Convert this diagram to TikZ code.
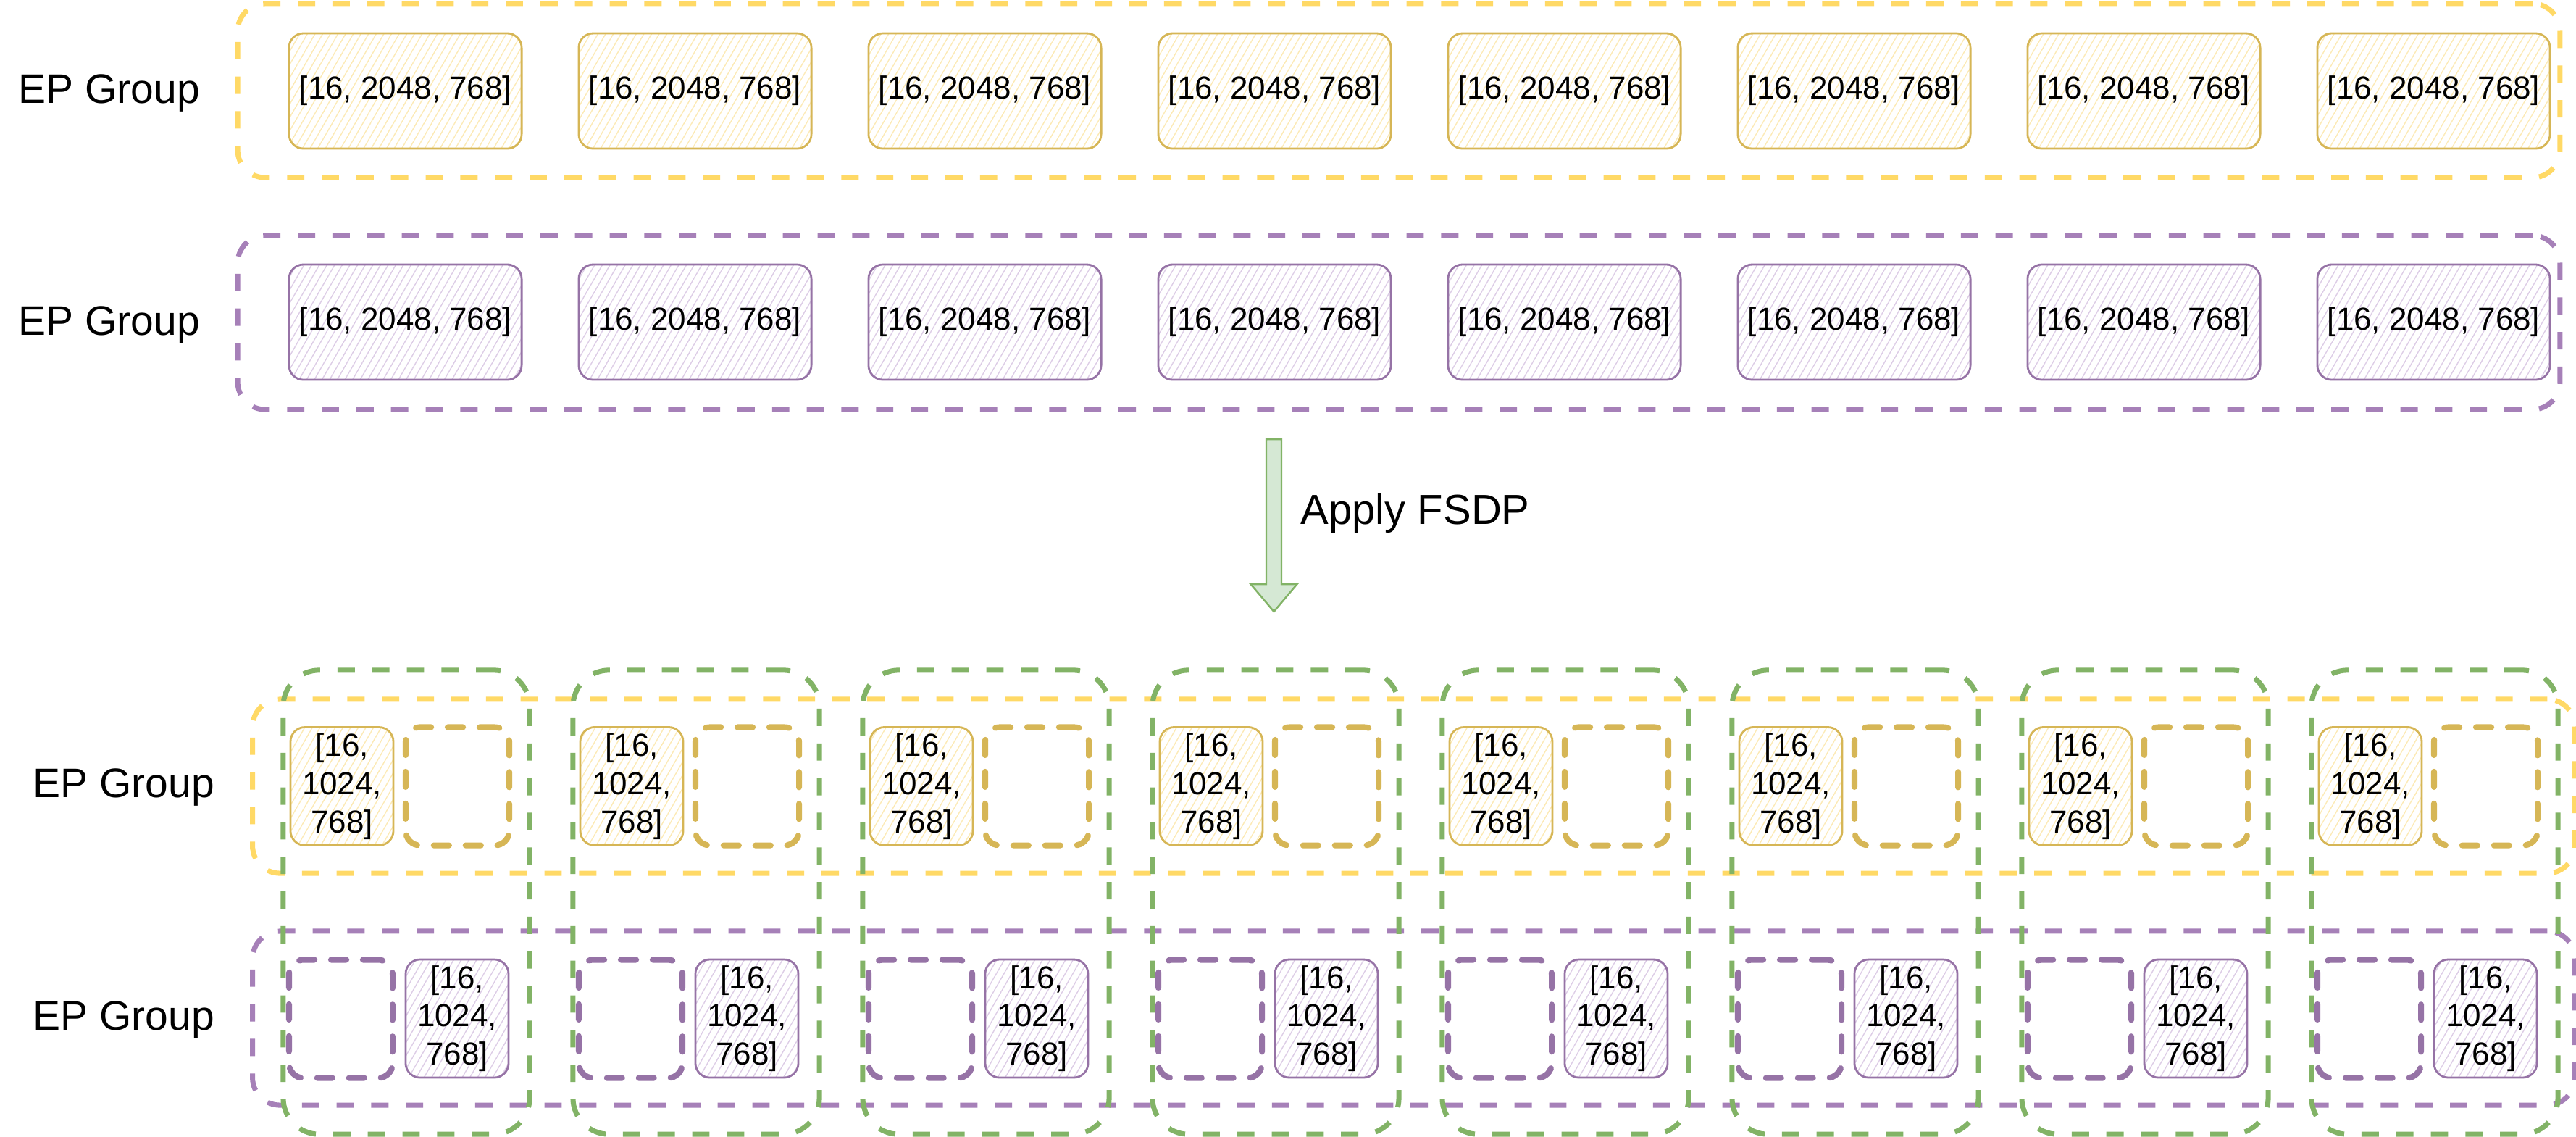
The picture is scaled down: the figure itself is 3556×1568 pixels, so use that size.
\documentclass[tikz,border=0pt]{standalone}
\usepackage{fontspec}
\setmainfont{Liberation Sans}
\usetikzlibrary{calc,patterns.meta}

\definecolor{ylwline}{HTML}{D6B656}
\definecolor{ylwhatch}{HTML}{FCEAB6}
\definecolor{ylwgrp}{HTML}{FFD966}
\definecolor{prpline}{HTML}{9673A6}
\definecolor{prphatch}{HTML}{DDCDE6}
\definecolor{prpgrp}{HTML}{A680B8}
\definecolor{grnline}{HTML}{82B366}
\definecolor{grnfill}{HTML}{D5E8D4}

\tikzset{
  grpline/.style={draw, line width=2pt, dash pattern=on 6.8pt off 6.8pt,
    rounded corners=0.38cm, minimum width=32.04cm, minimum height=2.4cm, inner sep=0pt},
  rankgrp/.style={grpline, draw=grnline, minimum width=3.4cm, minimum height=6.4cm,
    rounded corners=0.5cm},
  tensor/.style={draw=#1line, line width=0.8pt, rounded corners=0.2cm,
    pattern={Lines[angle=60,distance=2.6pt,line width=0.4pt]}, pattern color=#1hatch,
    inner sep=0pt, align=center, font=\fontsize{12.5}{15}\selectfont},
  fulltensor/.style={tensor=#1, minimum width=3.21cm, minimum height=1.59cm},
  halftensor/.style={tensor=#1, minimum width=1.42cm, minimum height=1.63cm},
  emptyshard/.style={draw=#1line, line width=2.3pt, dash pattern=on 6pt off 6.5pt,
    line cap=round, rounded corners=0.2cm, minimum width=1.43cm, minimum height=1.63cm},
  eplabel/.style={font=\fontsize{16.2}{19}\selectfont, anchor=base west, inner sep=0pt},
  fsdparrow/.style={draw=grnline, fill=grnfill, line width=0.7pt, line join=miter},
}

\begin{document}
\begin{tikzpicture}[x=0.01cm, y=-0.01cm]
  \useasboundingbox (0,0) rectangle (3556,1568);

  % before FSDP: every rank holds the whole tensor
  \node[grpline, draw=ylwgrp] (grpy1) at (1931,125) {};
  \node[grpline, draw=prpgrp] (grpp1) at (1931,445) {};
  \node[eplabel] (lbly1) at (25,142) {EP Group};
  \node[eplabel] (lblp1) at (25,462) {EP Group};
  \foreach \i in {0,...,7} {
    \node[fulltensor=ylw] (ty\i) at (559.5+400*\i,125.5) {[16, 2048, 768]};
    \node[fulltensor=prp] (tp\i) at (559.5+400*\i,444.5) {[16, 2048, 768]};
  }

  % the step between
  \coordinate (fsdp in) at (1758.5,606);
  \coordinate (fsdp out) at (1758.5,844);
  \draw[fsdparrow] ($(fsdp in)+(-10.5,0)$) -- ($(fsdp in)+(10.5,0)$)
    -- ($(fsdp out)+(10.5,-38)$) -- ($(fsdp out)+(32,-38)$) -- (fsdp out)
    -- ($(fsdp out)+(-32,-38)$) -- ($(fsdp out)+(-10.5,-38)$) -- cycle;
  \node[font=\fontsize{16.5}{19}\selectfont, anchor=base west, inner sep=0pt]
    (fsdplbl) at (1795,723) {Apply FSDP};

  % after FSDP: each rank keeps one half, green box = one rank
  \node[grpline, draw=ylwgrp] (grpy2) at (1951.5,1085) {};
  \node[grpline, draw=prpgrp] (grpp2) at (1951.5,1405) {};
  \node[eplabel] (lbly2) at (45,1100) {EP Group};
  \node[eplabel] (lblp2) at (45,1421) {EP Group};
  \foreach \i in {0,...,7} {
    \node[rankgrp] (rk\i) at (561+400*\i,1245) {};
    \node[halftensor=ylw] (shy\i) at (472+400*\i,1085) {[16,\\1024,\\768]};
    \node[emptyshard=ylw] (emy\i) at (631.5+400*\i,1085) {};
    \node[emptyshard=prp] (emp\i) at (470.5+400*\i,1406) {};
    \node[halftensor=prp] (shp\i) at (631+400*\i,1405.5) {[16,\\1024,\\768]};
  }
\end{tikzpicture}
\end{document}
